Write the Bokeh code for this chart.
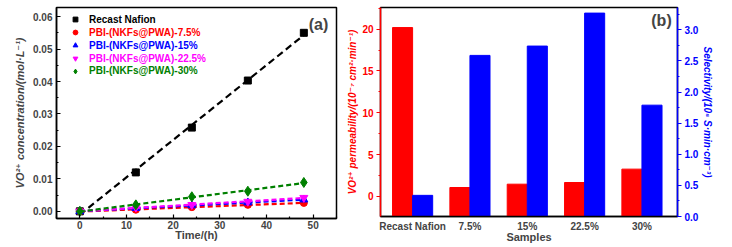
import numpy as np
from bokeh.plotting import figure
from bokeh.layouts import row
from bokeh.models import (Range1d, LinearAxis, FixedTicker, PrintfTickFormatter,
                          Legend, LegendItem, Label, ColumnDataSource)
from bokeh.embed import file_html
from bokeh.resources import INLINE

FONT = "Liberation Sans"
FONT_SUP = "'Liberation Sans', 'DejaVu Sans'"

# ---------------- Panel (a) data ----------------
time_h = [0, 12, 24, 36, 48]
series_names = ["Recast Nafion", "PBI-(NKFs@PWA)-7.5%", "PBI-(NKFs@PWA)-15%",
                "PBI-(NKFs@PWA)-22.5%", "PBI-(NKFs@PWA)-30%"]
conc_nafion = [0.0, 0.0120, 0.0258, 0.0403, 0.0550]
conc_75 = [0.0, 0.0005, 0.0013, 0.0020, 0.0026]
conc_15 = [0.0, 0.0010, 0.0018, 0.0027, 0.0036]
conc_225 = [0.0, 0.0012, 0.0020, 0.0030, 0.0042]
conc_30 = [0.0, 0.0020, 0.0045, 0.0062, 0.0089]
series_values = [conc_nafion, conc_75, conc_15, conc_225, conc_30]
series_colors = ["#000000", "#ff0000", "#0000ff", "#ff00ff", "#008000"]
series_markers = ["square", "circle", "triangle", "inverted_triangle", "diamond"]
series_sizes = [7, 7, 8, 8, 10]
series_dash = ["7 4", "5 3", "5 3", "5 3", "5 3"]

# ---------------- Panel (b) data ----------------
samples = ["Recast Nafion", "7.5%", "15%", "22.5%", "30%"]
permeability = [20.2, 1.05, 1.45, 1.65, 3.25]
selectivity = [0.34, 2.59, 2.74, 3.27, 1.79]

FHA = 211  # frame height (a)
FHB = 209  # frame height (b)

# ================= Panel (a) =================
pa = figure(frame_width=280, frame_height=FHA, output_backend="svg", toolbar_location=None,
            x_range=Range1d(-5, 55), y_range=Range1d(-0.0022, 0.0628),
            min_border_left=56, min_border_right=4, min_border_top=5, min_border_bottom=10)
pa.outline_line_color = "#000000"
pa.outline_line_width = 1.5
pa.xgrid.visible = False
pa.ygrid.visible = False

legends = []
for name, vals, col, mk, sz, dash in zip(series_names, series_values, series_colors,
                                          series_markers, series_sizes, series_dash):
    k, b = np.polyfit(time_h, vals, 1)
    fx = [time_h[0], time_h[-1]]
    fy = [k * fx[0] + b, k * fx[1] + b]
    pa.line(fx, fy, line_color=col, line_width=2.2, line_dash=dash)
    r = pa.scatter(time_h, vals, marker=mk, size=sz, fill_color=col, line_color=col)
    legends.append((name, col, r))

row_centers = [12, 25, 38, 51, 63.5]
for (name, col, r), yc in zip(legends, row_centers):
    lg = Legend(items=[LegendItem(label=name, renderers=[r])],
                location=(13, FHA - yc - 6),
                padding=0, margin=0, border_line_color=None, background_fill_alpha=0,
                glyph_width=12, glyph_height=12, label_height=12, label_standoff=8,
                label_text_font=FONT, label_text_font_style="bold",
                label_text_font_size="10px", label_text_color=col,
                label_text_baseline="middle")
    pa.add_layout(lg, "center")

for ax in (pa.xaxis[0], pa.yaxis[0]):
    ax.axis_line_width = 1.5
    ax.major_tick_in = 4
    ax.major_tick_out = 0
    ax.minor_tick_in = 2
    ax.minor_tick_out = 0
    ax.major_tick_line_width = 1.2
    ax.minor_tick_line_width = 1.2
    ax.major_label_text_font = FONT
    ax.major_label_text_font_style = "bold"
    ax.major_label_text_font_size = "10px"
    ax.axis_label_text_font = FONT_SUP
    ax.axis_label_text_font_size = "11px"

pa.xaxis.ticker = FixedTicker(ticks=[0, 10, 20, 30, 40, 50], minor_ticks=[-5, 5, 15, 25, 35, 45, 55])
pa.yaxis.ticker = FixedTicker(ticks=[0, 0.01, 0.02, 0.03, 0.04, 0.05, 0.06],
                              minor_ticks=[0.005, 0.015, 0.025, 0.035, 0.045, 0.055])
pa.yaxis.formatter = PrintfTickFormatter(format="%.2f")
pa.xaxis.axis_label = "Time/(h)"
pa.xaxis.axis_label_text_font_style = "bold"
pa.xaxis.major_label_standoff = 2
pa.xaxis.axis_label_standoff = -3
pa.yaxis.axis_label = "VO²⁺ concentration/(mol·L⁻¹)"
pa.yaxis.axis_label_text_font_style = "bold italic"
pa.yaxis.major_label_standoff = 4
pa.yaxis.axis_label_standoff = 4

pa.add_layout(Label(x=262, y=FHA - 17, x_units="screen", y_units="screen", text="(a)",
                    text_font=FONT, text_font_style="bold", text_font_size="16px",
                    text_align="center", text_baseline="middle"))

# ================= Panel (b) =================
idx = np.arange(len(samples))
y_lo = -2.42
pb = figure(frame_width=297, frame_height=FHB, output_backend="svg", toolbar_location=None,
            x_range=Range1d(-0.56, 4.62), y_range=Range1d(y_lo, 22.6),
            min_border_left=40, min_border_right=47, min_border_top=7, min_border_bottom=10)
pb.extra_y_ranges = {"sel": Range1d(0, 3.36)}
pb.outline_line_color = "#000000"
pb.outline_line_width = 1.5
pb.xgrid.visible = False
pb.ygrid.visible = False

src = ColumnDataSource(dict(xr=idx - 0.175, xb=idx + 0.175, perm=permeability, sel=selectivity))
pb.vbar(x="xr", top="perm", bottom=y_lo, width=0.35, source=src,
        fill_color="#ff0000", line_color="#ff0000")
pb.vbar(x="xb", top="sel", bottom=0, width=0.35, source=src, y_range_name="sel",
        fill_color="#0000ff", line_color="#0000ff")

xa = pb.xaxis[0]
xa.ticker = FixedTicker(ticks=list(idx))
xa.major_label_overrides = {int(i): s for i, s in zip(idx, samples)}
xa.major_tick_in = 0
xa.major_tick_out = 0
xa.minor_tick_in = 0
xa.minor_tick_out = 0
xa.axis_line_width = 1.5
xa.major_label_text_font = FONT
xa.major_label_text_font_style = "bold"
xa.major_label_text_font_size = "10px"
xa.major_label_standoff = 4
xa.axis_label = "Samples"
xa.axis_label_text_font = FONT
xa.axis_label_text_font_style = "bold"
xa.axis_label_text_font_size = "11px"
xa.axis_label_standoff = -4

ya = pb.yaxis[0]
ya.ticker = FixedTicker(ticks=[0, 5, 10, 15, 20], minor_ticks=[2.5, 7.5, 12.5, 17.5, 22.5])
ya.axis_label = "VO²⁺ permeability/(10⁻⁷ cm²·min⁻¹)"

yb = LinearAxis(y_range_name="sel")
yb.ticker = FixedTicker(ticks=[0, 0.5, 1.0, 1.5, 2.0, 2.5, 3.0],
                        minor_ticks=[0.25, 0.75, 1.25, 1.75, 2.25, 2.75, 3.25])
yb.formatter = PrintfTickFormatter(format="%.1f")
yb.axis_label = "Selectivity/(10⁵ S·min·cm⁻³)"
pb.add_layout(yb, "right")

for ax, col in ((ya, "#ff0000"), (yb, "#0000ff")):
    ax.axis_line_color = col
    ax.axis_line_width = 1.5
    ax.major_tick_line_color = col
    ax.minor_tick_line_color = col
    ax.major_tick_in = 0
    ax.major_tick_out = 4
    ax.minor_tick_in = 0
    ax.minor_tick_out = 2
    ax.major_tick_line_width = 1.2
    ax.minor_tick_line_width = 1.2
    ax.major_label_text_color = col
    ax.major_label_text_font = FONT
    ax.major_label_text_font_style = "bold"
    ax.major_label_text_font_size = "10px"
    ax.major_label_standoff = 3
    ax.axis_label_text_color = col
    ax.axis_label_text_font = FONT_SUP
    ax.axis_label_text_font_style = "bold italic"
    ax.axis_label_text_font_size = "10px"
    ax.axis_label_standoff = 1

pb.add_layout(Label(x=281, y=FHB - 13, x_units="screen", y_units="screen", text="(b)",
                    text_font=FONT, text_font_style="bold", text_font_size="16px",
                    text_align="center", text_baseline="middle"))

layout = row(pa, pb, spacing=0)
open("out.html", "w").write(file_html(layout, INLINE))
